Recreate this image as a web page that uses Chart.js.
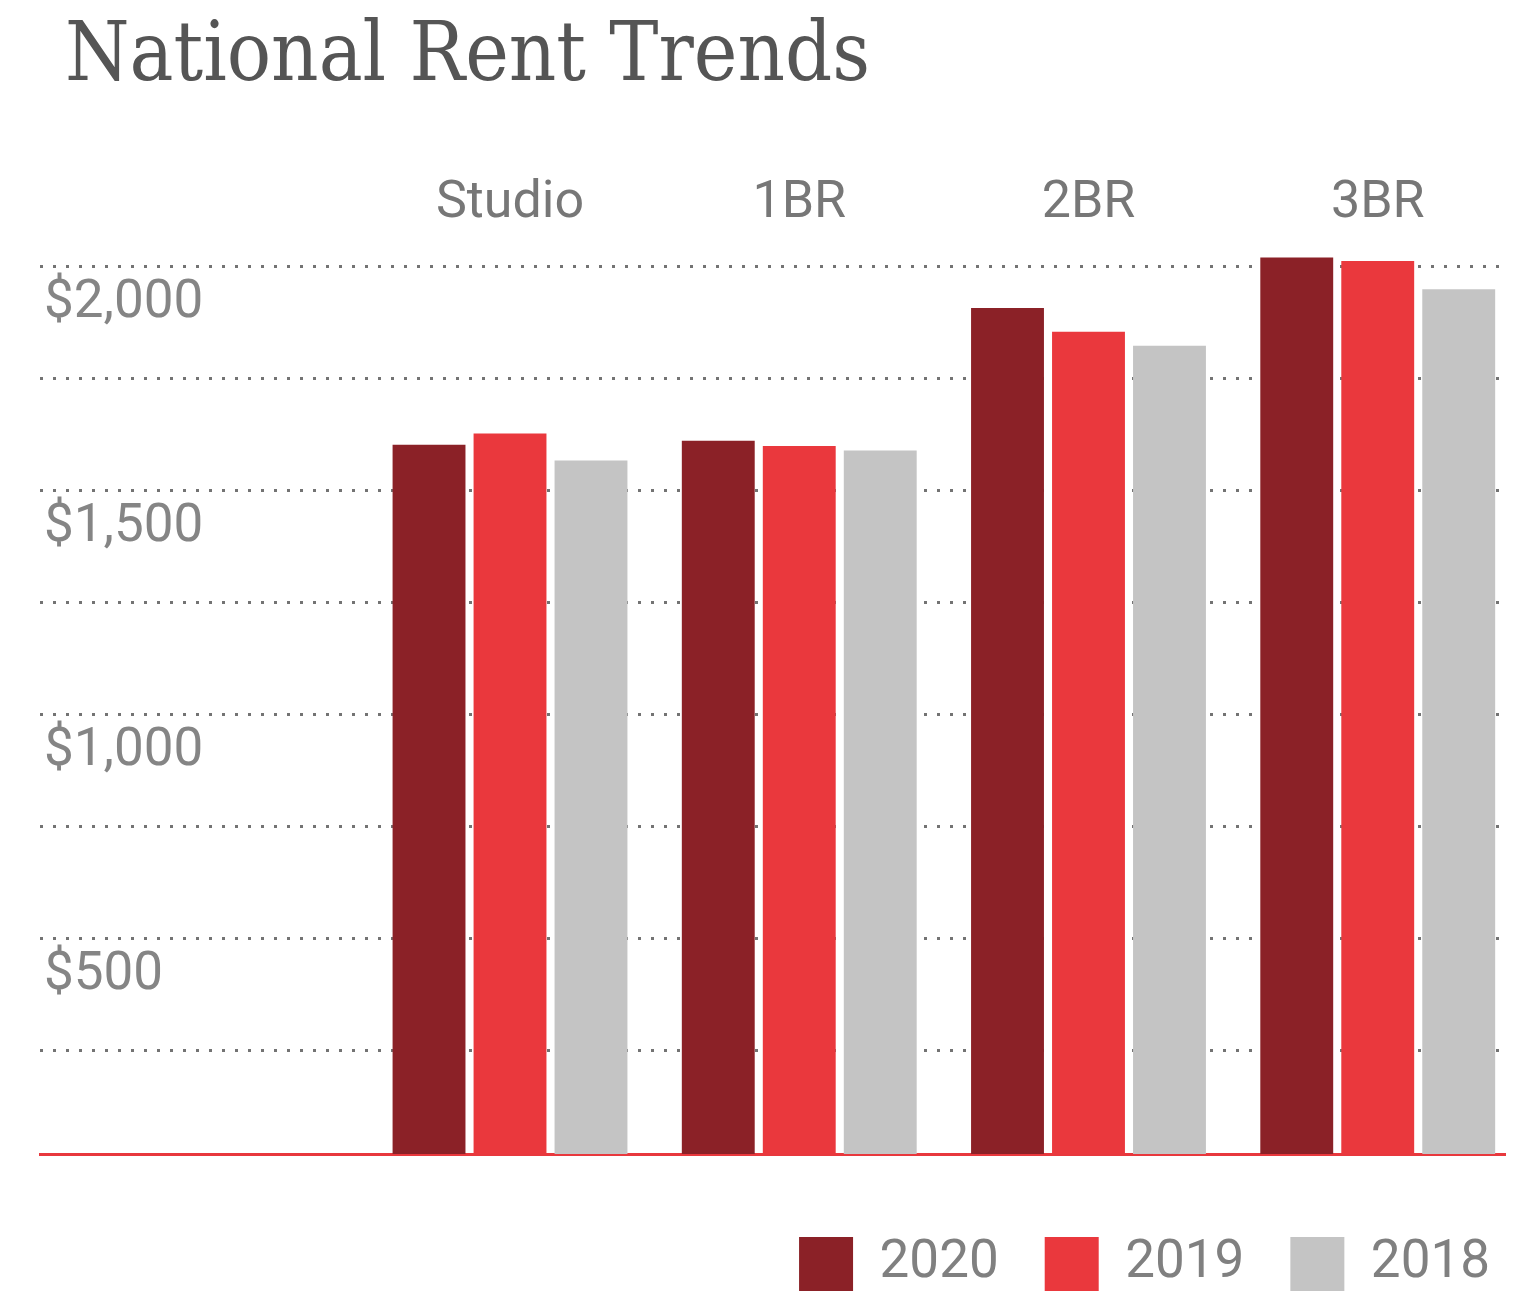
<!DOCTYPE html>
<html>
<head>
<meta charset="utf-8">
<title>National Rent Trends</title>
<script src="https://cdn.jsdelivr.net/npm/chart.js@4.4.1/dist/chart.umd.min.js"></script>
<style>
  html, body { margin: 0; padding: 0; background: #fff; }
  #wrap { position: relative; width: 1536px; height: 1315px; }
</style>
</head>
<body>
<div id="wrap"><canvas id="rent-chart"></canvas></div>
<script>
const chartTitle = "National Rent Trends";
const categories = ["Studio", "1BR", "2BR", "3BR"];
const seriesLabels = ["2020", "2019", "2018"];
const rent2020 = [1603, 1612, 1908, 2021];
const rent2019 = [1628, 1600, 1855, 2013];
const rent2018 = [1568, 1590, 1824, 1950];
const yTicks = [250, 500, 750, 1000, 1250, 1500, 1750, 2000];
const yTickLabels = ["", "$500", "", "$1,000", "", "$1,500", "", "$2,000"];

const colors = ["#8b2127", "#ea383d", "#c4c4c4"];
const labelFont = "Roboto";

// title sits a bit right of the plot edge, so draw it ourselves
const leftTitle = {
  id: "leftTitle",
  afterDraw(chart) {
    const ctx = chart.ctx;
    ctx.save();
    ctx.font = '82px "DejaVu Serif Condensed", "DejaVu Serif", serif';
    ctx.fillStyle = "#555555";
    ctx.textBaseline = "alphabetic";
    ctx.fillText(chartTitle, 65, 80);
    ctx.restore();
  },
};

const ctx = document.getElementById("rent-chart").getContext("2d");
new Chart(ctx, {
  type: "bar",
  data: {
    labels: categories.map((c, i) => i),
    datasets: [rent2020, rent2019, rent2018].map((values, i) => ({
      label: seriesLabels[i],
      data: values,
      backgroundColor: colors[i],
      borderWidth: 0,
      categoryPercentage: 0.84,
      barPercentage: 0.9,
    })),
  },
  plugins: [leftTitle],
  options: {
    responsive: true,
    maintainAspectRatio: false,
    animation: false,
    layout: {
      padding: { top: 160, left: 40, right: 0, bottom: 14 },
    },
    scales: {
      x: {
        type: "linear",
        position: "top",
        min: -1.625,
        max: 3.44,
        offset: false,
        grid: { display: false, drawTicks: false, offset: false },
        border: { display: false },
        ticks: {
          stepSize: 1,
          includeBounds: false,
          autoSkip: false,
          maxRotation: 0,
          padding: 5,
          color: "#777777",
          font: { family: labelFont, size: 52 },
          callback: (value) => categories[value] ?? "",
        },
        afterFit: (scale) => {
          scale.height = 80;
        },
      },
      x2: {
        type: "linear",
        position: "bottom",
        display: true,
        z: 1,
        grid: { display: false, drawTicks: false },
        ticks: { display: false },
        border: { color: "#e8383d", width: 3 },
        afterFit: (scale) => {
          scale.height = 37;
        },
      },
      y: {
        min: 20,
        max: 2060,
        z: 1,
        grid: { color: "#737373", lineWidth: 3, drawTicks: false },
        border: { display: false, dash: [3, 10] },
        afterBuildTicks: (scale) => {
          scale.ticks = yTicks.map((v) => ({ value: v }));
        },
        afterFit: (scale) => {
          scale.width = 0;
        },
        ticks: {
          mirror: true,
          padding: 4,
          labelOffset: 37,
          color: "#858585",
          font: { family: labelFont, size: 53 },
          callback: (value, index) => yTickLabels[index],
        },
      },
      yRight: {
        position: "right",
        display: true,
        grid: { display: false, drawTicks: false },
        border: { display: false },
        ticks: { display: false },
        afterFit: (scale) => {
          scale.width = 31;
        },
      },
    },
    plugins: {
      title: { display: false },
      tooltip: { enabled: false },
      legend: {
        position: "bottom",
        align: "end",
        labels: {
          boxWidth: 54,
          boxHeight: 54,
          padding: 46,
          color: "#808080",
          font: { family: labelFont, size: 53 },
        },
      },
    },
  },
});
</script>
</body>
</html>
